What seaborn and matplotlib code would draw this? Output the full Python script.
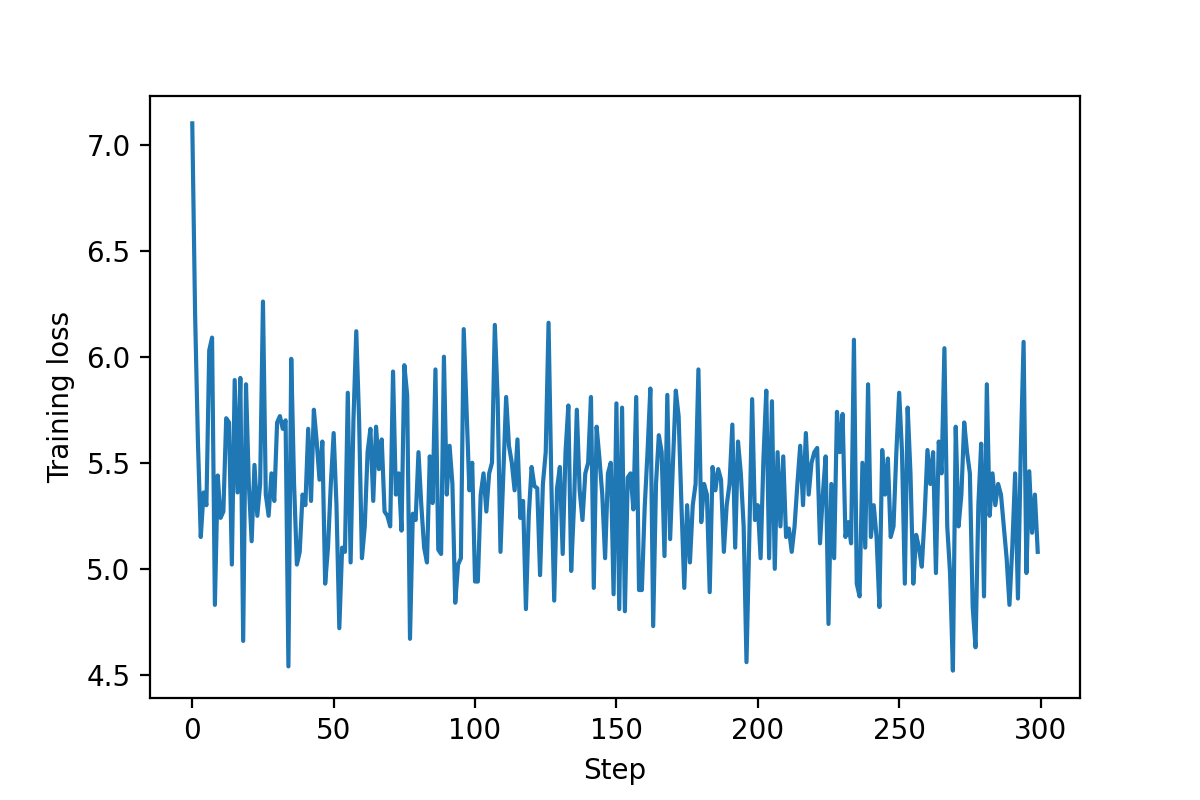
import matplotlib
matplotlib.use("Agg")
import matplotlib.pyplot as plt
import seaborn as sns
import numpy as np
import pandas as pd

loss_values = [
    7.10, 6.20, 5.60, 5.15, 5.36, 5.30, 6.03, 6.09, 4.83, 5.44,
    5.24, 5.27, 5.71, 5.69, 5.02, 5.89, 5.36, 5.90, 4.66, 5.87,
    5.40, 5.13, 5.49, 5.25, 5.40, 6.26, 5.35, 5.25, 5.45, 5.32,
    5.69, 5.72, 5.66, 5.70, 4.54, 5.99, 5.40, 5.02, 5.08, 5.35,
    5.30, 5.66, 5.32, 5.75, 5.60, 5.42, 5.60, 4.93, 5.10, 5.40,
    5.64, 5.30, 4.72, 5.10, 5.08, 5.83, 5.03, 5.70, 6.12, 5.70,
    5.05, 5.20, 5.55, 5.66, 5.32, 5.67, 5.47, 5.61, 5.27, 5.25,
    5.20, 5.93, 5.35, 5.45, 5.18, 5.96, 5.82, 4.67, 5.26, 5.23,
    5.55, 5.30, 5.10, 5.03, 5.53, 5.31, 5.94, 5.09, 5.07, 6.00,
    5.35, 5.58, 5.40, 4.84, 5.02, 5.05, 6.13, 5.75, 5.37, 5.50,
    4.94, 4.94, 5.35, 5.45, 5.27, 5.45, 5.50, 6.15, 5.80, 5.08,
    5.45, 5.81, 5.58, 5.50, 5.37, 5.61, 5.24, 5.32, 4.81, 5.25,
    5.48, 5.39, 5.38, 4.97, 5.40, 5.55, 6.16, 5.40, 4.85, 5.38,
    5.48, 5.07, 5.55, 5.77, 4.99, 5.30, 5.75, 5.37, 5.23, 5.45,
    5.50, 5.81, 4.91, 5.67, 5.52, 5.35, 5.05, 5.45, 5.50, 4.88,
    5.78, 4.81, 5.76, 4.80, 5.43, 5.45, 5.28, 5.81, 4.90, 4.90,
    5.29, 5.55, 5.85, 4.73, 5.40, 5.63, 5.55, 5.06, 5.82, 5.14,
    5.50, 5.84, 5.72, 5.30, 4.91, 5.30, 5.03, 5.30, 5.40, 5.94,
    5.22, 5.40, 5.35, 4.89, 5.48, 5.37, 5.47, 5.42, 5.08, 5.30,
    5.40, 5.68, 5.10, 5.60, 5.45, 5.20, 4.56, 5.15, 5.80, 5.23,
    5.30, 5.05, 5.52, 5.84, 5.05, 5.79, 5.00, 5.55, 5.20, 5.53,
    5.15, 5.19, 5.08, 5.20, 5.40, 5.58, 5.30, 5.64, 5.35, 5.50,
    5.55, 5.57, 5.12, 5.35, 5.53, 4.74, 5.40, 5.05, 5.74, 5.55,
    5.73, 5.15, 5.22, 5.12, 6.08, 4.93, 4.87, 5.50, 5.10, 5.87,
    5.15, 5.30, 5.15, 4.82, 5.56, 5.35, 5.52, 5.15, 5.20, 5.55,
    5.83, 5.55, 4.93, 5.76, 5.45, 4.93, 5.16, 5.10, 5.01, 5.25,
    5.56, 5.40, 5.55, 4.98, 5.60, 5.45, 6.04, 5.20, 4.98, 4.52,
    5.67, 5.20, 5.35, 5.69, 5.55, 5.45, 4.82, 4.63, 5.30, 5.59,
    4.87, 5.87, 5.25, 5.45, 5.30, 5.40, 5.35, 5.20, 5.05, 4.83,
    5.10, 5.45, 4.86, 5.55, 6.07, 4.98, 5.46, 5.17, 5.35, 5.08,
]
steps = list(range(len(loss_values)))

df = pd.DataFrame({"Step": steps, "Training loss": loss_values})

fig, ax = plt.subplots(figsize=(6, 4), dpi=200)
fig.subplots_adjust(left=0.125, right=0.9, top=0.88, bottom=0.1275)
sns.lineplot(data=df, x="Step", y="Training loss", color="#1f77b4",
             linewidth=1.5, ax=ax)
ax.set_xlabel("Step")
ax.set_ylabel("Training loss")
fig.savefig("out.png", dpi=200)
